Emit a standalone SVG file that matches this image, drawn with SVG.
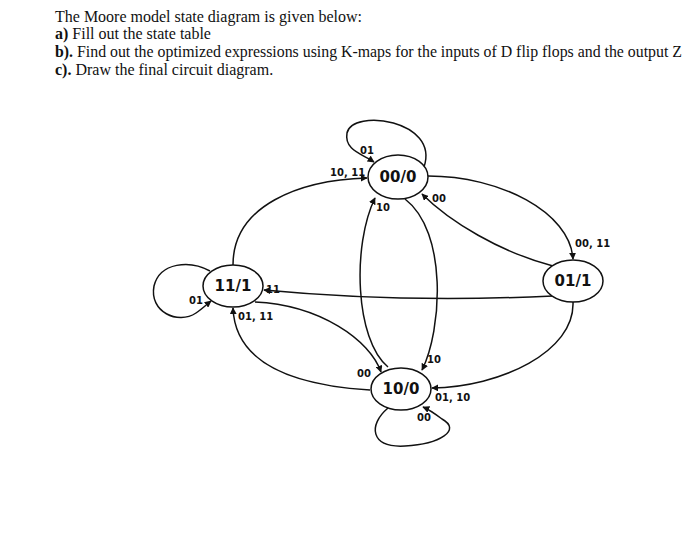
<svg xmlns="http://www.w3.org/2000/svg" width="700" height="553" viewBox="0 0 700 553">
<defs>
<style>
.q{font-family:"Liberation Serif","Times New Roman",serif;font-size:16px;fill:#111}
.b{font-weight:bold}
.node ellipse{fill:#fff;stroke:#111;stroke-width:1.5}
.node text{font-family:"DejaVu Sans",Verdana,sans-serif;font-weight:bold;font-size:15px;fill:#111;text-anchor:middle}
.e path{fill:none;stroke:#111;stroke-width:1.5;marker-end:url(#ah)}
.lbl{font-family:"DejaVu Sans",Verdana,sans-serif;font-weight:bold;font-size:10px;fill:#111}
</style>
<marker id="ah" viewBox="0 0 10 10" refX="9" refY="5" markerWidth="7" markerHeight="7" markerUnits="userSpaceOnUse" orient="auto">
<path d="M0,0 L10,5 L0,10 z" fill="#111"/>
</marker>
</defs>
<rect width="700" height="553" fill="#fff"/>
<g id="question">
<text class="q" x="55" y="22">The Moore model state diagram is given below:</text>
<text class="q" x="55" y="39"><tspan class="b">a)</tspan>  Fill out the state table</text>
<text class="q" x="55" y="57" textLength="627" lengthAdjust="spacingAndGlyphs"><tspan class="b">b).</tspan> Find out the optimized expressions using K-maps for the inputs of D flip flops and the output Z</text>
<text class="q" x="55" y="75"><tspan class="b">c).</tspan> Draw the final circuit diagram.</text>
</g>
<g id="connectors" class="e">
<path d="M424,167 C440,120 352,108 347,133 C344,150 362,154 374,162"/>
<path d="M233,265 C233,205 300,180 367,178"/>
<path d="M428,176 C500,176 570,212 573,259"/>
<path d="M553,266 C500,252 450,222 422,194"/>
<path d="M388,367 C355,340 352,245 375,198"/>
<path d="M405,199 C448,232 442,330 422,370"/>
<path d="M553,296 Q400,303 264,290"/>
<path d="M255,302 C320,305 370,340 381,372"/>
<path d="M370,390 C290,385 235,362 233,308"/>
<path d="M573,302 C575,352 500,387 432,388"/>
<path d="M388,408 C368,425 370,448 405,446 C440,444 462,430 442,419 C434,413 430,410 423,407"/>
<path d="M210,271 C190,260 160,262 154,286 C149,312 178,325 196,313 C202,309 206,305 211,301"/>
</g>
<g id="edge-labels">
<text class="lbl" x="360" y="154">01</text>
<text class="lbl" x="330" y="176">10, 11</text>
<text class="lbl" x="575" y="247">00, 11</text>
<text class="lbl" x="432" y="202">00</text>
<text class="lbl" x="376" y="211">10</text>
<text class="lbl" x="427" y="363">10</text>
<text class="lbl" x="266" y="293">11</text>
<text class="lbl" x="357" y="377">00</text>
<text class="lbl" x="238" y="320">01, 11</text>
<text class="lbl" x="435" y="401">01, 10</text>
<text class="lbl" x="417" y="421">00</text>
<text class="lbl" x="189" y="304">01</text>
</g>
<g id="s00" class="node"><ellipse cx="398" cy="177" rx="30" ry="22"/><text x="398" y="182">00/0</text></g>
<g id="s11" class="node"><ellipse cx="233" cy="286" rx="30" ry="21"/><text x="233" y="291">11/1</text></g>
<g id="s01" class="node"><ellipse cx="573" cy="281" rx="30" ry="21"/><text x="573" y="286">01/1</text></g>
<g id="s10" class="node"><ellipse cx="401" cy="389" rx="30" ry="21"/><text x="401" y="394">10/0</text></g>
</svg>
